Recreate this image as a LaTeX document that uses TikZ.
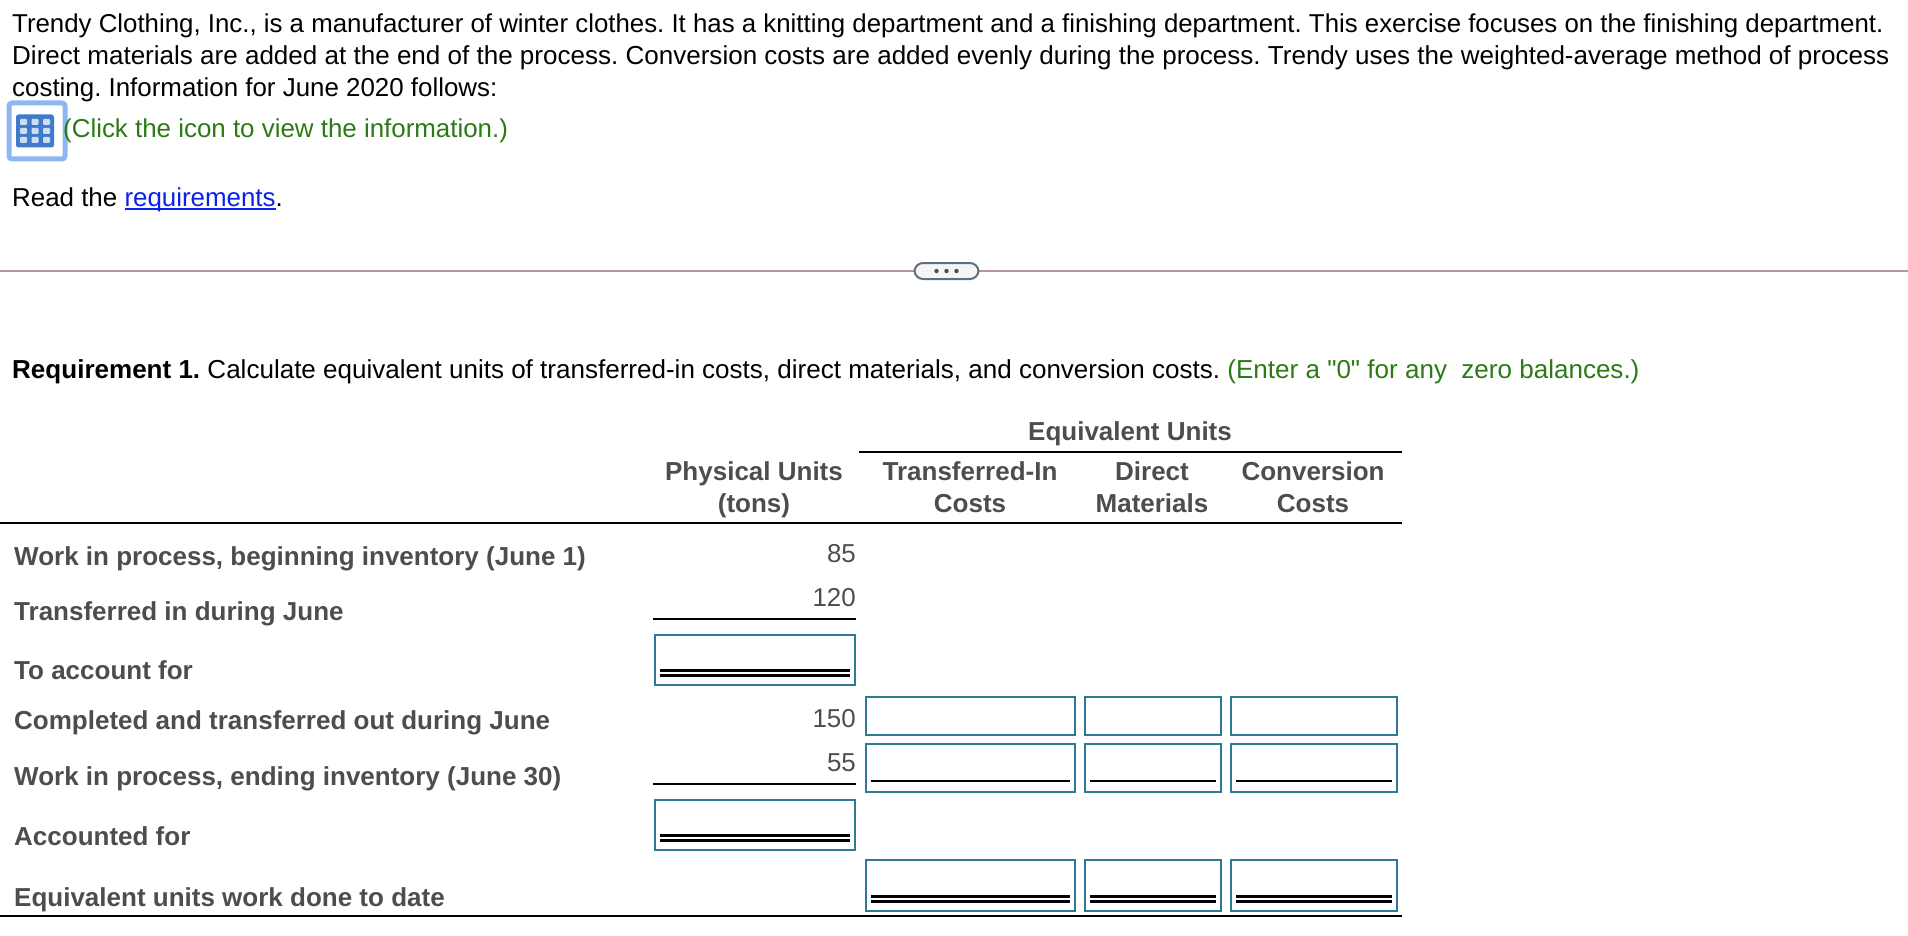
\documentclass[tikz,border=0pt]{standalone}
\usepackage{fontspec}
\setmainfont{Liberation Sans}
\newfontfamily\plainquote{Liberation Sans}
\definecolor{labgray}{HTML}{4D4D4D}
\definecolor{notegreen}{HTML}{2C7A16}
\definecolor{linkblue}{HTML}{0A22E8}
\definecolor{boxblue}{HTML}{2F7896}
\definecolor{iconblue}{HTML}{3F7BCB}
\definecolor{halo}{HTML}{8DB6F2}
\definecolor{divider}{HTML}{B595A8}
\definecolor{pillgray}{HTML}{5F6F7F}
\newcommand\linkword[1]{\setbox0\hbox{#1}\rlap{\rule[-3pt]{\wd0}{1.6pt}}\box0}
\tikzset{
    txt/.style={anchor=base west,inner sep=0pt,font=\fontsize{25.9}{28}\selectfont\frenchspacing},
    wide/.style={font=\fontsize{26.03}{28}\selectfont\frenchspacing},
    lab/.style={txt,text=labgray,font=\fontsize{26}{28}\selectfont\bfseries\frenchspacing},
    hdr/.style={lab,anchor=base},
    val/.style={txt,anchor=base east,text=labgray},
    inbox/.style={draw=boxblue,line width=1.8pt,fill=white,inner sep=0pt,anchor=north west},
    rule/.style={line width=2.2pt,black},
    dbl/.style={line width=2.8pt,black},
}
\begin{document}
\begin{tikzpicture}[x=1pt,y=-1pt]
    \useasboundingbox (0,0) rectangle (1908,936);
    % question text
    \node[txt,font=\fontsize{25.83}{28}\selectfont\frenchspacing] (l1) at (12,33) {Trendy Clothing, Inc., is a manufacturer of winter clothes. It has a knitting department and a finishing department. This exercise focuses on the finishing department.};
    \node[txt,wide] (l2) at (12,65) {Direct materials are added at the end of the process. Conversion costs are added evenly during the process. Trendy uses the weighted-average method of process};
    \node[txt] (l3) at (12,97) {costing. Information for June 2020 follows:};
    % icon
    \node[draw=halo,line width=5pt,rounded corners=3pt,minimum width=56pt,minimum height=56pt,inner sep=0pt] (halo) at (37,131) {};
    \node[fill=iconblue,rounded corners=2.5pt,minimum width=38pt,minimum height=33pt,inner sep=0pt] (grid) at (35,131) {};
    \foreach \i in {-1,0,1} {
        \foreach \j in {-1,0,1} {
            \node[fill=white,opacity=.75,rounded corners=1pt,minimum width=7pt,minimum height=6pt,inner sep=0pt] (cell\i\j) at ([xshift=\i*11.5pt,yshift=\j*9pt]grid.center) {};
        }
    }
    \node[txt,text=notegreen] (click) at (63,138) {(Click the icon to view the information.)};
    \node[txt] (read) at (12,207) {Read the \textcolor{linkblue}{\linkword{requirements}}.};
    % divider
    \coordinate (dl) at (0,271);
    \coordinate (dr) at (1908,271);
    \draw[divider,line width=1.6pt] (dl) -- (dr);
    \node[draw=pillgray,fill=gray!8,line width=2pt,rounded corners=8.5pt,minimum width=64pt,minimum height=16pt,inner sep=0pt] (pill) at (946.5,271) {};
    \foreach \i in {-10,0,10} {
        \fill[labgray] ([xshift=\i pt]pill.center) circle (2.2pt);
    }
    % requirement
    \node[txt,wide] (req) at (12,378) {\textbf{Requirement 1.} Calculate equivalent units of transferred-in costs, direct materials, and conversion costs. \textcolor{notegreen}{(Enter a {\plainquote"}0{\plainquote"} for any\ \ zero balances.)}};
    % table head
    \node[hdr] (eu) at (1130,440) {Equivalent Units};
    \node[hdr] (pu) at (754,480) {Physical Units};
    \node[hdr] (tons) at (754,512) {(tons)};
    \node[hdr] (ti) at (970,480) {Transferred-In};
    \node[hdr] (tic) at (970,512) {Costs};
    \node[hdr] (dm) at (1152,480) {Direct};
    \node[hdr] (dmm) at (1152,512) {Materials};
    \node[hdr] (cc) at (1313,480) {Conversion};
    \node[hdr] (ccc) at (1313,512) {Costs};
    \coordinate (a1) at (859,452);
    \coordinate (a2) at (1402,452);
    \coordinate (b1) at (0,523);
    \coordinate (b2) at (1402,523);
    \coordinate (c1) at (0,916);
    \coordinate (c2) at (1402,916);
    \coordinate (d1) at (653,619);
    \coordinate (d2) at (856,619);
    \coordinate (e1) at (653,784);
    \coordinate (e2) at (856,784);
    \draw[rule] (a1) -- (a2);
    \draw[rule] (b1) -- (b2);
    \draw[rule] (c1) -- (c2);
    \draw[rule] (d1) -- (d2);
    \draw[rule] (e1) -- (e2);
    % row labels
    \foreach \n/\y/\t in {1/565/{Work in process, beginning inventory (June 1)},
                          2/620/Transferred in during June,
                          3/679/To account for,
                          4/729/Completed and transferred out during June,
                          5/785/{Work in process, ending inventory (June 30)},
                          6/845/Accounted for,
                          7/906/Equivalent units work done to date} {
        \node[lab] (row\n) at (14,\y) {\t};
    }
    % physical units
    \foreach \n/\y/\t in {1/562/85,2/606/120,3/727/150,4/771/55} {
        \node[val] (val\n) at (856,\y) {\t};
    }
    % input boxes
    \foreach \n/\y in {1/634,2/799} {
        \node[inbox,minimum width=200pt,minimum height=50pt] (tot\n) at (654,\y) {};
        \draw[dbl] ([xshift=6pt,yshift=15pt]tot\n.south west) -- ([xshift=-6pt,yshift=15pt]tot\n.south east);
        \draw[dbl] ([xshift=6pt,yshift=10pt]tot\n.south west) -- ([xshift=-6pt,yshift=10pt]tot\n.south east);
    }
    \foreach \n/\x/\w in {1/865/209,2/1084/136,3/1230/166} {
        \node[inbox,minimum width=\w pt,minimum height=38pt] (top\n) at (\x,696) {};
        \node[inbox,minimum width=\w pt,minimum height=48pt] (mid\n) at (\x,743) {};
        \node[inbox,minimum width=\w pt,minimum height=51pt] (low\n) at (\x,859) {};
        \draw[rule] ([xshift=6pt,yshift=11.5pt]mid\n.south west) -- ([xshift=-6pt,yshift=11.5pt]mid\n.south east);
        \draw[dbl] ([xshift=6pt,yshift=15pt]low\n.south west) -- ([xshift=-6pt,yshift=15pt]low\n.south east);
        \draw[dbl] ([xshift=6pt,yshift=10pt]low\n.south west) -- ([xshift=-6pt,yshift=10pt]low\n.south east);
    }
\end{tikzpicture}
\end{document}
